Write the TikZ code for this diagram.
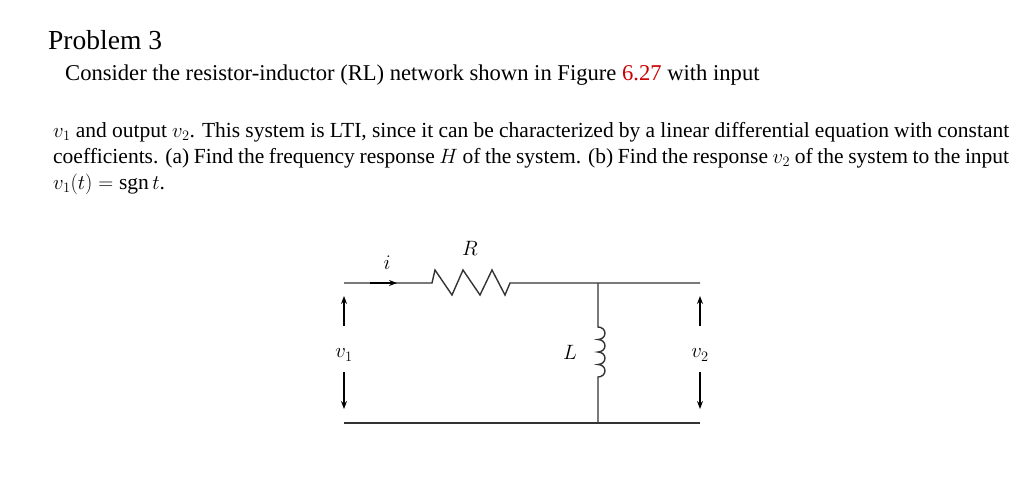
\documentclass[tikz,border=0pt]{standalone}
\usepackage{fontspec}
\setmainfont{Liberation Serif}
\usetikzlibrary{arrows.meta}
\begin{document}
\begin{tikzpicture}[x=1pt,y=-1pt,
  wire/.style={line width=1.4pt,black!80},
  va/.style={line width=1.2pt,-{Stealth[length=8pt,width=6pt]}},
  lab/.style={font=\fontsize{20}{20}\selectfont},
  txt/.style={anchor=base west,inner sep=0pt}]
\useasboundingbox (0,0) rectangle (1034,493);
\node[txt,font=\fontsize{27.5}{30}\selectfont] (p) at (48,49) {Problem 3};
\node[txt,font=\fontsize{22.6}{26}\selectfont] (c) at (65,80) {Consider the resistor-inductor (RL) network shown in Figure \textcolor{red!80!black}{6.27} with input};
\node[anchor=north west,inner sep=0pt,text width=956pt,align=justify,font=\fontsize{21.5}{26}\selectfont] (b) at (53,122)
 {$v_1$ and output $v_2$. This system is LTI, since it can be characterized by a linear differential equation with constant coefficients. (a) Find the frequency response $H$ of the system. (b) Find the response $v_2$ of the system to the input $v_1(t)=\mathrm{sgn}\,t$.};
\coordinate (tl) at (344,283); \coordinate (tr) at (700,283);
\coordinate (bl) at (344,423); \coordinate (br) at (700,423);
\coordinate (r1) at (432,283); \coordinate (r2) at (510,283);
\coordinate (n1) at (598,283); \coordinate (n2) at (598,423);
\coordinate (l1) at (598,327); \coordinate (l2) at (598,377);
\draw[wire] (tl) -- (r1) -- (435,270) -- (452,295) -- (463,270) -- (480,295) -- (492,270) -- (505,295) -- (r2) -- (tr);
\draw[wire] (bl) -- (br);
\draw[wire] (n1) -- (l1)
  \foreach \k in {0,1,2,3} { arc[start angle=90,end angle=-90,x radius=7,y radius=-6.25] } -- (n2);
\draw[va] (370,283) -- (397,283);
\node[lab] (i) at (387,263) {$i$};
\node[lab] (R) at (470,248) {$R$};
\node[lab] (L) at (570,352) {$L$};
\node[lab] (v1) at (344,355) {$v_1$};
\node[lab] (v2) at (700,355) {$v_2$};
\draw[va] (344,326) -- (344,296);
\draw[va] (344,372) -- (344,409);
\draw[va] (700,326) -- (700,296);
\draw[va] (700,372) -- (700,409);
\end{tikzpicture}
\end{document}
